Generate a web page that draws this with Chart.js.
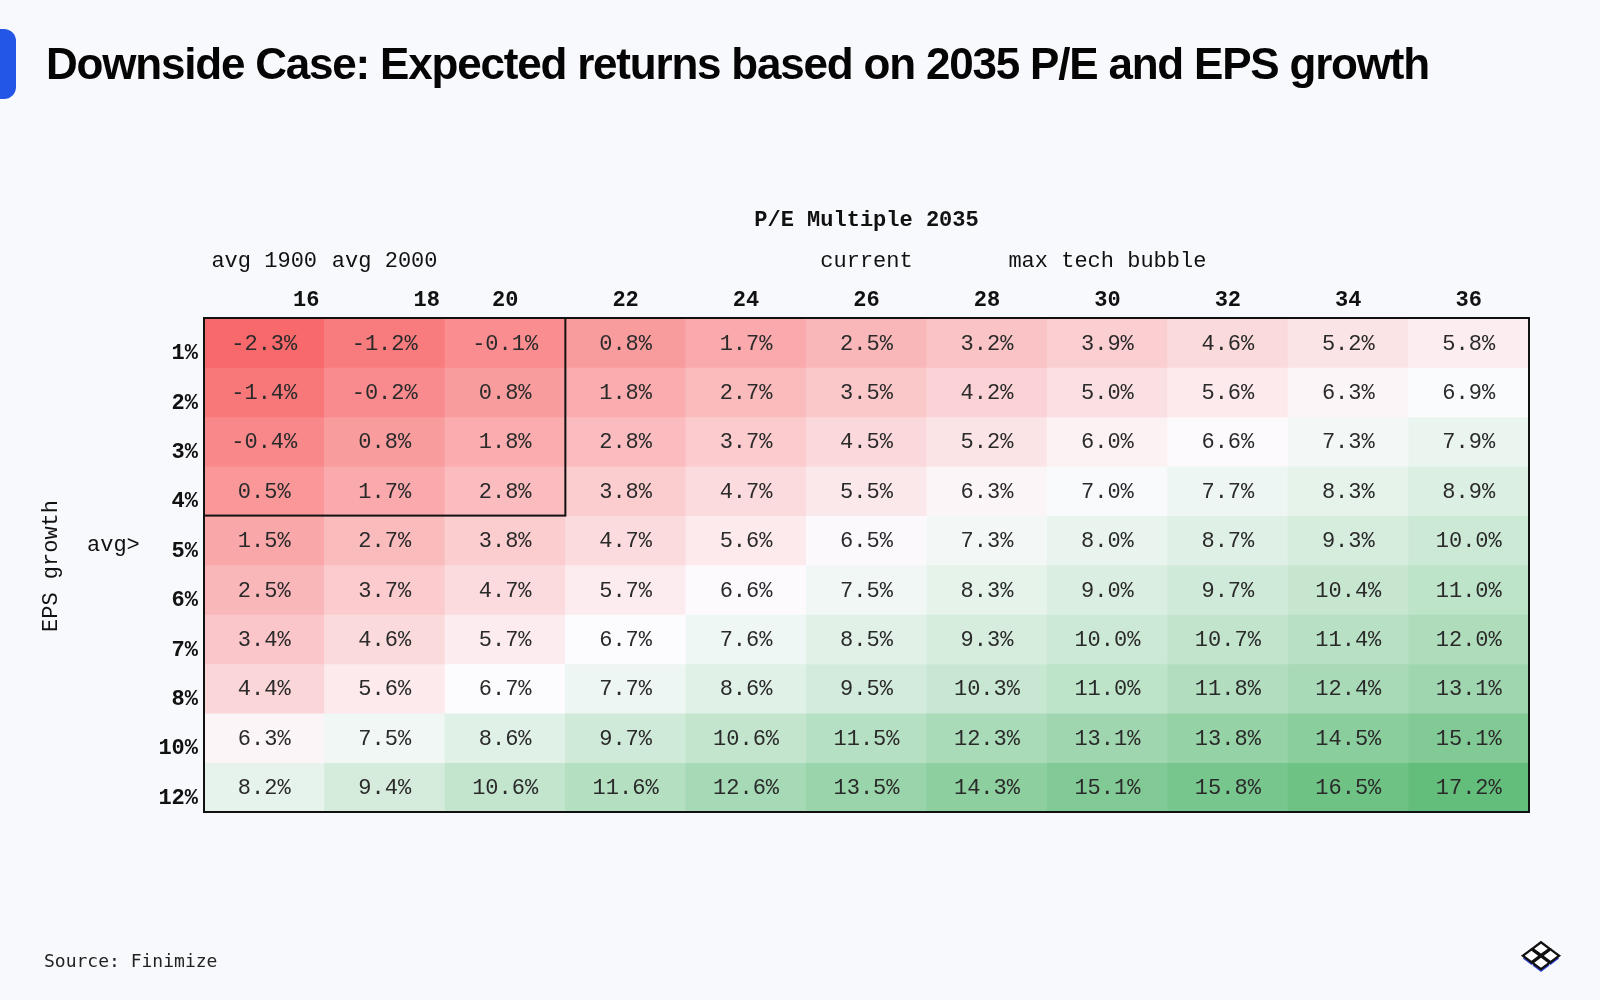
<!DOCTYPE html>
<html>
<head>
<meta charset="utf-8">
<script src="https://cdn.jsdelivr.net/npm/chart.js@4.4.1/dist/chart.umd.min.js"></script>
<style>
  html, body { margin: 0; padding: 0; background: #f8f9fc; }
  #wrap { position: relative; width: 1600px; height: 1000px; }
</style>
</head>
<body>
<div id="wrap"><canvas id="heatChart" width="1600" height="1000"></canvas></div>
<script>
// P/E multiple columns and EPS growth rows
const peMultiples = ["16", "18", "20", "22", "24", "26", "28", "30", "32", "34", "36"];
const peNotes = ["avg 1900", "avg 2000", "", "", "", "current", "", "max tech bubble", "", "", ""];
const epsGrowth = ["1%", "2%", "3%", "4%", "5%", "6%", "7%", "8%", "10%", "12%"];
const avgRowLabel = "avg>";

// expected returns (%), one array per EPS growth row
const row1 = [-2.3, -1.2, -0.1, 0.8, 1.7, 2.5, 3.2, 3.9, 4.6, 5.2, 5.8];
const row2 = [-1.4, -0.2, 0.8, 1.8, 2.7, 3.5, 4.2, 5.0, 5.6, 6.3, 6.9];
const row3 = [-0.4, 0.8, 1.8, 2.8, 3.7, 4.5, 5.2, 6.0, 6.6, 7.3, 7.9];
const row4 = [0.5, 1.7, 2.8, 3.8, 4.7, 5.5, 6.3, 7.0, 7.7, 8.3, 8.9];
const row5 = [1.5, 2.7, 3.8, 4.7, 5.6, 6.5, 7.3, 8.0, 8.7, 9.3, 10.0];
const row6 = [2.5, 3.7, 4.7, 5.7, 6.6, 7.5, 8.3, 9.0, 9.7, 10.4, 11.0];
const row7 = [3.4, 4.6, 5.7, 6.7, 7.6, 8.5, 9.3, 10.0, 10.7, 11.4, 12.0];
const row8 = [4.4, 5.6, 6.7, 7.7, 8.6, 9.5, 10.3, 11.0, 11.8, 12.4, 13.1];
const row10 = [6.3, 7.5, 8.6, 9.7, 10.6, 11.5, 12.3, 13.1, 13.8, 14.5, 15.1];
const row12 = [8.2, 9.4, 10.6, 11.6, 12.6, 13.5, 14.3, 15.1, 15.8, 16.5, 17.2];
const returnRows = [row1, row2, row3, row4, row5, row6, row7, row8, row10, row12];

// red / white / green colour scale (min, median, max)
const allValues = returnRows.flat().slice().sort((a, b) => a - b);
const vMin = allValues[0];
const vMax = allValues[allValues.length - 1];
const vMid = (allValues[54] + allValues[55]) / 2;
const cLow = [248, 105, 107], cMid = [252, 252, 255], cHigh = [99, 190, 123];

function mix(a, b, t) {
  return "rgb(" + a.map((v, i) => Math.round(v + (b[i] - v) * t)).join(",") + ")";
}
function cellColor(v) {
  if (v <= vMid) return mix(cLow, cMid, (v - vMin) / (vMid - vMin));
  return mix(cMid, cHigh, (v - vMid) / (vMax - vMid));
}

const datasets = returnRows.map((vals, r) => ({
  label: epsGrowth[r],
  data: vals.map((v, c) => ({ x: peMultiples[c], y: [r, r + 1], v: v })),
  backgroundColor: vals.map(cellColor),
  borderWidth: 0,
  grouped: false,
  barPercentage: 1,
  categoryPercentage: 1,
}));

const mono = '"Liberation Mono", "Courier New", monospace';

const labelsPlugin = {
  id: "labels",
  afterDatasetsDraw(chart) {
    const ctx = chart.ctx;
    const area = chart.chartArea;
    const xs = chart.scales.x;
    const ys = chart.scales.y;
    ctx.save();

    // cell values
    ctx.fillStyle = "#2a2a2a";
    ctx.font = "22px " + mono;
    ctx.textAlign = "center";
    ctx.textBaseline = "middle";
    chart.data.datasets.forEach((ds, i) => {
      chart.getDatasetMeta(i).data.forEach((el, j) => {
        ctx.fillText(ds.data[j].v.toFixed(1) + "%", el.x, (el.y + el.base) / 2 + 1);
      });
    });

    // outer frame and the "history" box
    ctx.strokeStyle = "#111";
    ctx.lineWidth = 2;
    ctx.strokeRect(area.left, area.top, area.right - area.left, area.bottom - area.top);
    const colW = xs.getPixelForValue(1) - xs.getPixelForValue(0);
    const boxRight = xs.getPixelForValue(2) + colW / 2;
    const boxBottom = ys.getPixelForValue(4);
    ctx.strokeRect(area.left, area.top, boxRight - area.left, boxBottom - area.top);

    // column headers
    ctx.fillStyle = "#111";
    ctx.font = "bold 22px " + mono;
    ctx.textBaseline = "middle";
    peMultiples.forEach((p, i) => {
      const cx = xs.getPixelForValue(i);
      if (i < 2) {
        ctx.textAlign = "right";
        ctx.fillText(p, cx + colW / 2 - 5, area.top - 18);
      } else {
        ctx.textAlign = "center";
        ctx.fillText(p, cx, area.top - 18);
      }
    });

    // axis title
    ctx.textAlign = "center";
    ctx.font = "bold 22px " + mono;
    ctx.fillText("P/E Multiple 2035", (area.left + area.right) / 2, area.top - 98);

    // notes above columns
    ctx.font = "22px " + mono;
    peNotes.forEach((n, i) => {
      if (n) ctx.fillText(n, xs.getPixelForValue(i), area.top - 57);
    });

    // row labels
    ctx.font = "bold 22px " + mono;
    ctx.textAlign = "right";
    epsGrowth.forEach((g, r) => {
      const cy = (ys.getPixelForValue(r) + ys.getPixelForValue(r + 1)) / 2;
      ctx.fillText(g, area.left - 6, cy + 11);
    });
    ctx.font = "22px " + mono;
    ctx.textAlign = "left";
    const avgY = (ys.getPixelForValue(4) + ys.getPixelForValue(5)) / 2;
    ctx.fillText(avgRowLabel, 87, avgY + 5);

    // y axis title
    ctx.save();
    ctx.translate(51, 566);
    ctx.rotate(-Math.PI / 2);
    ctx.textAlign = "center";
    ctx.fillText("EPS growth", 0, 0);
    ctx.restore();

    // title + blue tab
    ctx.fillStyle = "#2356e6";
    ctx.beginPath();
    ctx.roundRect(-14, 29, 30, 70, 12);
    ctx.fill();
    ctx.fillStyle = "#050505";
    ctx.textAlign = "left";
    ctx.textBaseline = "alphabetic";
    const title = "Downside Case: Expected returns based on 2035 P/E and EPS growth";
    ctx.font = 'bold 44px "Liberation Sans", Arial, sans-serif';
    const w = ctx.measureText(title).width;
    ctx.letterSpacing = ((1384 - w) / (title.length - 1)).toFixed(2) + "px";
    ctx.fillText(title, 46, 79);
    ctx.letterSpacing = "0px";

    // source
    ctx.fillStyle = "#222";
    ctx.font = '18px "DejaVu Sans Mono", monospace';
    ctx.textBaseline = "middle";
    ctx.fillText("Source: Finimize", 44, 962);

    // little logo
    ctx.translate(1541, 955);
    ctx.scale(1.35, 1);
    ctx.rotate(Math.PI / 4);
    ctx.lineWidth = 2;
    [[-9, -9], [1, -9], [-9, 1], [1, 1]].forEach(([dx, dy]) => {
      ctx.fillStyle = "#2a3fd0";
      ctx.fillRect(dx + 2, dy + 2, 9, 9);
      ctx.fillStyle = "#fff";
      ctx.fillRect(dx, dy, 9, 9);
      ctx.strokeStyle = "#111";
      ctx.strokeRect(dx, dy, 9, 9);
    });
    ctx.restore();
  },
};

new Chart(document.getElementById("heatChart"), {
  type: "bar",
  data: { labels: peMultiples, datasets: datasets },
  options: {
    responsive: false,
    animation: false,
    layout: { padding: { left: 204, right: 71, top: 318, bottom: 188 } },
    scales: {
      x: { type: "category", display: false, offset: true },
      y: { type: "linear", min: 0, max: 10, reverse: true, display: false },
    },
    plugins: {
      legend: { display: false },
      tooltip: { enabled: false },
    },
  },
  plugins: [labelsPlugin],
});
</script>
</body>
</html>
